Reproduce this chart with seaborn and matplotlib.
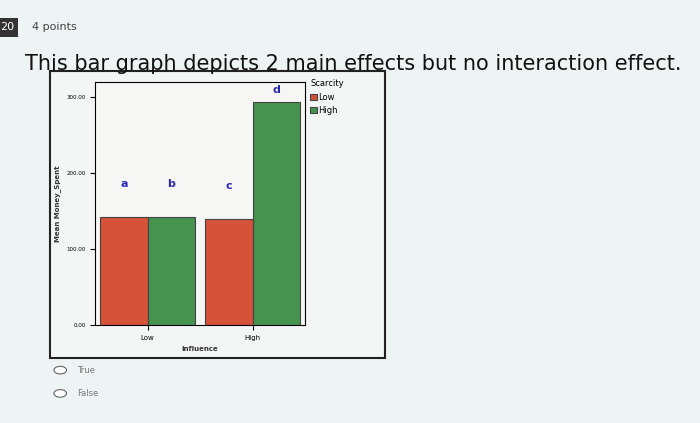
import matplotlib
matplotlib.use("Agg")
import matplotlib.pyplot as plt
import seaborn as sns
import pandas as pd
from matplotlib.patches import Rectangle, Circle

influence = ["Low", "Low", "High", "High"]
scarcity = ["Low", "High", "Low", "High"]
money = [142, 142, 139, 293]
letters = ["a", "b", "c", "d"]
yticks = [0, 100, 200, 300]
ytick_labels = ["0.00", "100.00", "200.00", "300.00"]

df = pd.DataFrame({"Influence": influence, "Scarcity": scarcity, "Mean Money_Spent": money})

fig = plt.figure(figsize=(7, 4.23), dpi=100)
fig.patch.set_facecolor("#eef3f3")

# header
fig.text(0.0, 0.935, "20", fontsize=8, color="white",
         bbox=dict(facecolor="#333333", edgecolor="none", pad=3), va="center")
fig.text(0.045, 0.935, "4 points", fontsize=8, color="#444444", va="center")
fig.text(0.035, 0.848, "This bar graph depicts 2 main effects but no interaction effect.",
         fontsize=15, color="#111111", va="center")

# outer box
fig.patches.append(Rectangle((0.072, 0.153), 0.478, 0.68, transform=fig.transFigure,
                             facecolor="#f4f6f6", edgecolor="#222222", lw=1.5, zorder=0))

ax = fig.add_axes([0.136, 0.232, 0.30, 0.575])
ax.set_zorder(3)
sns.barplot(data=df, x="Influence", y="Mean Money_Spent", hue="Scarcity",
            palette={"Low": "#f0401e", "High": "#3a9e46"}, edgecolor="#444444",
            linewidth=0.8, ax=ax, width=0.9, order=["Low", "High"], hue_order=["Low", "High"])
ax.set_facecolor("#f6f6f4")
ax.set_ylim(0, 320)
ax.set_yticks(yticks)
ax.set_yticklabels(ytick_labels, fontsize=4)
ax.tick_params(axis="x", labelsize=5)
ax.set_xlabel("Influence", fontsize=5, fontweight="bold", color="#333333")
ax.set_ylabel("Mean Money_Spent", fontsize=5, fontweight="bold", color="#333333")
bars = [p for p in ax.patches if p.get_height() > 0]
bars = sorted(bars, key=lambda r: r.get_x())
for p, l in zip(bars, letters):
    ax.text(p.get_x() + p.get_width() / 2, p.get_height() + 40 if l != "d" else p.get_height() + 12,
            l, color="#2a2ab8", ha="center", fontsize=8, fontweight="bold")
leg = ax.legend(title="Scarcity", loc="upper left", bbox_to_anchor=(1.0, 1.03), frameon=False,
                fontsize=6, title_fontsize=6, handlelength=0.8, handletextpad=0.2, borderaxespad=0.2)
leg._legend_box.align = "left"

# radio options
for y, t in [(0.125, "True"), (0.07, "False")]:
    fig.patches.append(Circle((0.086, y), 0.009, transform=fig.transFigure,
                              facecolor="white", edgecolor="#666666", lw=0.8))
    fig.text(0.11, y, t, fontsize=6, color="#777777", va="center")

fig.savefig("out.png", dpi=100, facecolor=fig.get_facecolor())
